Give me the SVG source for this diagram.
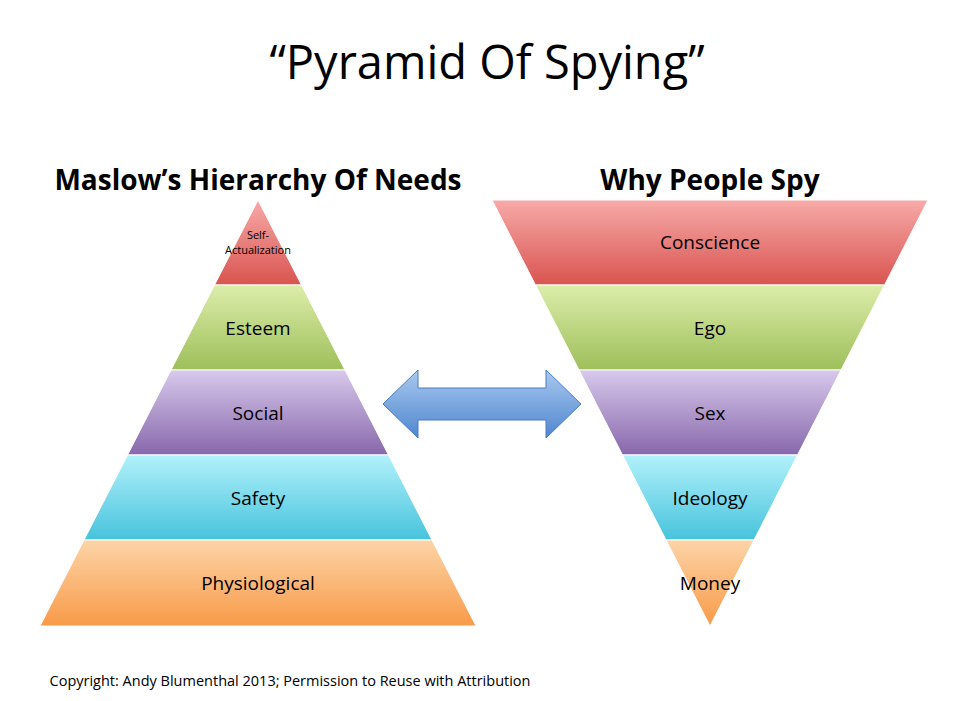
<svg xmlns="http://www.w3.org/2000/svg" width="970" height="701" viewBox="0 0 970 701">
<defs>
<linearGradient id="gR" x1="0" y1="0" x2="0" y2="1"><stop offset="0" stop-color="#f7aaa8"/><stop offset="1" stop-color="#d95450"/></linearGradient>
<linearGradient id="gG" x1="0" y1="0" x2="0" y2="1"><stop offset="0" stop-color="#dcedaa"/><stop offset="1" stop-color="#9ebf5a"/></linearGradient>
<linearGradient id="gP" x1="0" y1="0" x2="0" y2="1"><stop offset="0" stop-color="#d8c9ec"/><stop offset="1" stop-color="#8767ab"/></linearGradient>
<linearGradient id="gC" x1="0" y1="0" x2="0" y2="1"><stop offset="0" stop-color="#b2f1fb"/><stop offset="1" stop-color="#46c3dc"/></linearGradient>
<linearGradient id="gO" x1="0" y1="0" x2="0" y2="1"><stop offset="0" stop-color="#fdd4a8"/><stop offset="1" stop-color="#f89a48"/></linearGradient>
<linearGradient id="gA" x1="0" y1="0" x2="0" y2="1"><stop offset="0" stop-color="#a9c9ef"/><stop offset="1" stop-color="#4f86d0"/></linearGradient>
</defs>
<style>
text{font-family:"Open Sans","Liberation Sans",sans-serif;fill:#000;text-anchor:middle}
.lbl{font-size:19px}
.h{font-size:28px;font-weight:bold}
.s{stroke:#fff;stroke-width:1}
</style>
<rect width="970" height="701" fill="#fff"/>
<text x="487" y="79" style="font-size:47px">“Pyramid Of Spying”</text>
<text x="258" y="190" class="h">Maslow’s Hierarchy Of Needs</text>
<text x="710" y="190" class="h">Why People Spy</text>
<g id="maslow">
<g id="m1"><polygon class="s" fill="url(#gR)" points="258,200 301.5,285 214.5,285"/><text x="258" y="239" style="font-size:11px">Self-</text><text x="258" y="254" style="font-size:11px">Actualization</text></g>
<g id="m2"><polygon class="s" fill="url(#gG)" points="214.5,285 301.5,285 345,370 171,370"/><text x="258" y="335" class="lbl">Esteem</text></g>
<g id="m3"><polygon class="s" fill="url(#gP)" points="171,370 345,370 388.5,455 127.5,455"/><text x="258" y="420" class="lbl">Social</text></g>
<g id="m4"><polygon class="s" fill="url(#gC)" points="127.5,455 388.5,455 432,540 84,540"/><text x="258" y="505" class="lbl">Safety</text></g>
<g id="m5"><polygon class="s" fill="url(#gO)" points="84,540 432,540 476,626 40,626"/><text x="258" y="590" class="lbl">Physiological</text></g>
</g>
<g id="spy">
<g id="s1"><polygon class="s" fill="url(#gR)" points="492,200 928,200 884.5,285 535.5,285"/><text x="710" y="249" class="lbl">Conscience</text></g>
<g id="s2"><polygon class="s" fill="url(#gG)" points="535.5,285 884.5,285 841,370 579,370"/><text x="710" y="335" class="lbl">Ego</text></g>
<g id="s3"><polygon class="s" fill="url(#gP)" points="579,370 841,370 797.5,455 622.5,455"/><text x="710" y="420" class="lbl">Sex</text></g>
<g id="s4"><polygon class="s" fill="url(#gC)" points="622.5,455 797.5,455 754,540 666,540"/><text x="710" y="505" class="lbl">Ideology</text></g>
<g id="s5"><polygon class="s" fill="url(#gO)" points="666,540 754,540 710,626"/><text x="710" y="590" class="lbl">Money</text></g>
</g>
<g id="connectors">
<polygon fill="url(#gA)" stroke="#4a7cc0" stroke-width="1" points="383,404 418,370 418,388 546,388 546,370 581,404 546,438 546,420 418,420 418,438"/>
</g>
<text x="290" y="686" style="font-size:14.5px">Copyright: Andy Blumenthal 2013; Permission to Reuse with Attribution</text>
</svg>
